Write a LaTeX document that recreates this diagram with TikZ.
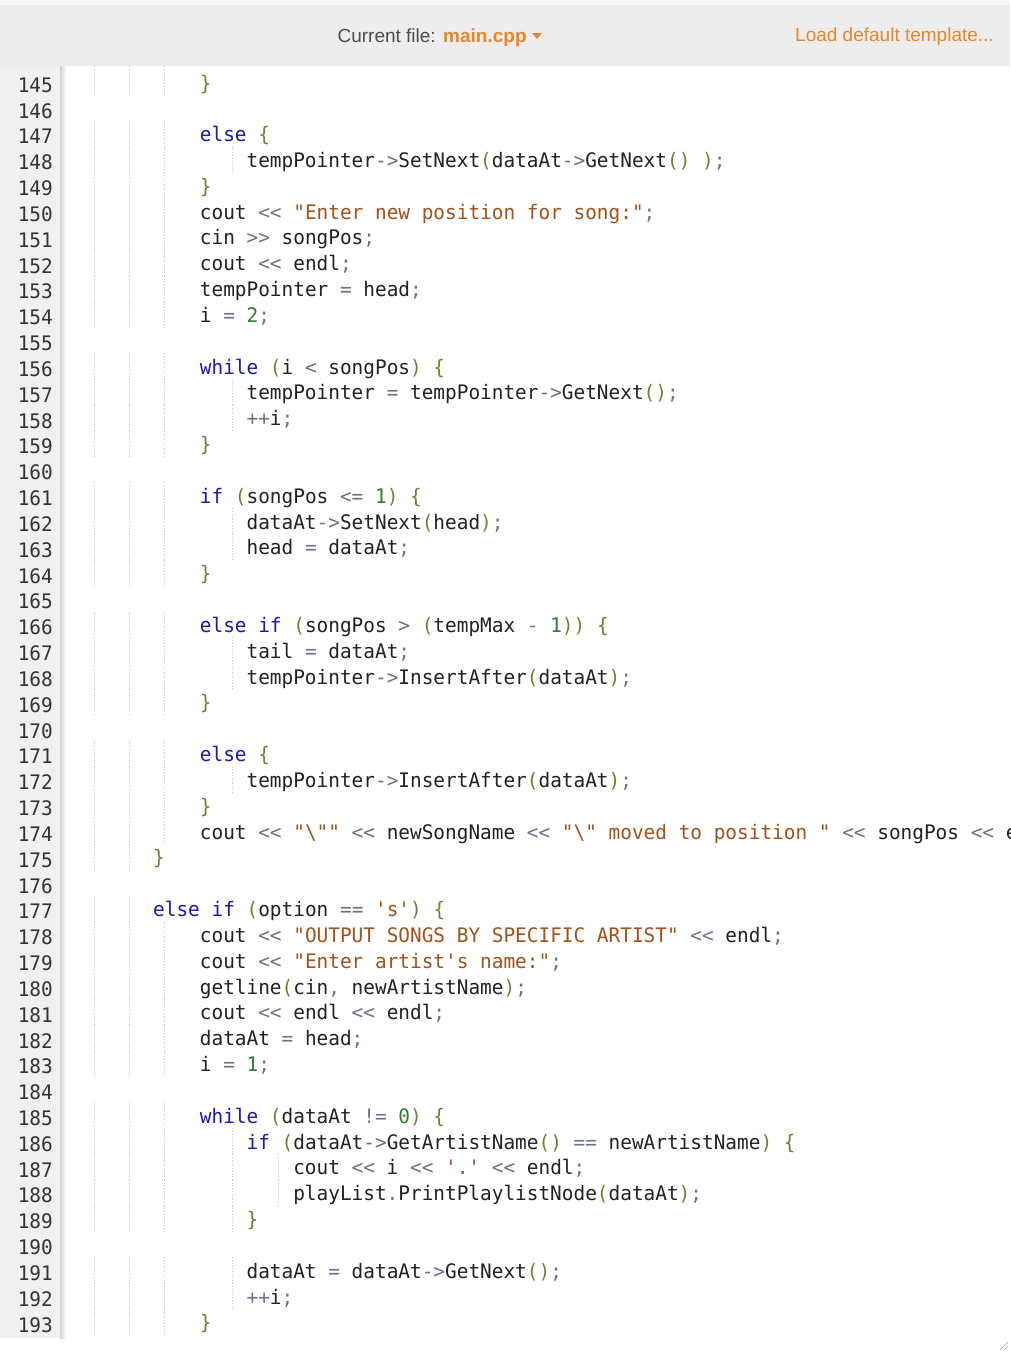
\documentclass[tikz,border=0pt]{standalone}
\usepackage{fontspec}
\setmainfont{Liberation Sans}
\setmonofont[FakeStretch=0.97]{DejaVu Sans Mono}
\definecolor{kw}{HTML}{1A1AA6}
\definecolor{st}{HTML}{A0521C}
\definecolor{nm}{HTML}{2E7D32}
\definecolor{op}{HTML}{6B7388}
\definecolor{br}{HTML}{7A7A35}
\definecolor{idf}{HTML}{222222}
\definecolor{orng}{HTML}{E8862A}
\newcommand\kw[1]{\textcolor{kw}{#1}}
\newcommand\stt[1]{\textcolor{st}{#1}}
\newcommand\nm[1]{\textcolor{nm}{#1}}
\newcommand\opp[1]{\textcolor{op}{#1}}
\newcommand\bra[1]{\textcolor{br}{#1}}
\newcommand\LB{\bra{\{}}
\newcommand\RB{\bra{\}}}
\newcommand\arw{\opp{->}}
\newcommand\semi{\opp{;}}
\newcommand\lsh{\opp{<{}<}}
\newcommand\codeline[3]{%
  \pgfmathsetmacro\yy{82+25.83*(#1-145)}%
  \pgfmathsetmacro\ty{\yy+3}%
  \node[numst] (n#1) at (53,\ty) {#1};
  \ifnum#2>0
    \draw[guide] (94,\yy-12.9) -- (94,\yy+12.9);
    \draw[guide] (129,\yy-12.9) -- (129,\yy+12.9);
    \ifnum#2>1 \draw[guide] (164,\yy-12.9) -- (164,\yy+12.9);\fi
    \ifnum#2>2 \draw[guide] (232,\yy-12.9) -- (232,\yy+12.9);\fi
    \ifnum#2>3 \draw[guide] (278,\yy-12.9) -- (278,\yy+12.9);\fi
    \pgfmathsetmacro\xx{153+46.7*(#2-1)}%
    \node[codest] (c#1) at (\xx,\ty) {#3};
  \fi}
\begin{document}
\begin{tikzpicture}[x=1pt,y=-1pt,
  numst/.style={anchor=east,inner sep=0pt,font=\ttfamily\fontsize{20}{20}\selectfont,text=black!80},
  codest/.style={anchor=west,inner sep=0pt,font=\ttfamily\fontsize{20}{20}\selectfont,text=idf,text height=14pt,text depth=4pt},
  guide/.style={draw=black!22,line width=0.8pt,dotted}]
\useasboundingbox (0,0) rectangle (1010,1352);
\clip (0,0) rectangle (1010,1352);
\fill[white] (0,0) rectangle (1010,1352);
\fill[black!6] (0,66) rectangle (60,1338);
\shade[left color=black!18,right color=white] (60,66) rectangle (66,1338);
\draw[guide] (94,52) -- (94,69); \draw[guide] (129,52) -- (129,69); \draw[guide] (164,52) -- (164,69);
\codeline{145}{2}{\RB}
\codeline{146}{0}{}
\codeline{147}{2}{\kw{else} \LB}
\codeline{148}{3}{tempPointer\arw SetNext\bra{(}dataAt\arw GetNext\bra{()} \bra{)}\semi}
\codeline{149}{2}{\RB}
\codeline{150}{2}{cout \lsh{} \stt{"Enter new position for song:"}\semi}
\codeline{151}{2}{cin \opp{>{}>} songPos\semi}
\codeline{152}{2}{cout \lsh{} endl\semi}
\codeline{153}{2}{tempPointer \opp{=} head\semi}
\codeline{154}{2}{i \opp{=} \nm{2}\semi}
\codeline{155}{0}{}
\codeline{156}{2}{\kw{while} \bra{(}i \opp{<} songPos\bra{)} \LB}
\codeline{157}{3}{tempPointer \opp{=} tempPointer\arw GetNext\bra{()}\semi}
\codeline{158}{3}{\opp{++}i\semi}
\codeline{159}{2}{\RB}
\codeline{160}{0}{}
\codeline{161}{2}{\kw{if} \bra{(}songPos \opp{<=} \nm{1}\bra{)} \LB}
\codeline{162}{3}{dataAt\arw SetNext\bra{(}head\bra{)}\semi}
\codeline{163}{3}{head \opp{=} dataAt\semi}
\codeline{164}{2}{\RB}
\codeline{165}{0}{}
\codeline{166}{2}{\kw{else if} \bra{(}songPos \opp{>} \bra{(}tempMax \opp{-} \nm{1}\bra{))} \LB}
\codeline{167}{3}{tail \opp{=} dataAt\semi}
\codeline{168}{3}{tempPointer\arw InsertAfter\bra{(}dataAt\bra{)}\semi}
\codeline{169}{2}{\RB}
\codeline{170}{0}{}
\codeline{171}{2}{\kw{else} \LB}
\codeline{172}{3}{tempPointer\arw InsertAfter\bra{(}dataAt\bra{)}\semi}
\codeline{173}{2}{\RB}
\codeline{174}{2}{cout \lsh{} \stt{"\textbackslash""} \lsh{} newSongName \lsh{} \stt{"\textbackslash" moved to position "} \lsh{} songPos \lsh{} e}
\codeline{175}{1}{\RB}
\codeline{176}{0}{}
\codeline{177}{1}{\kw{else if} \bra{(}option \opp{==} \stt{'s'}\bra{)} \LB}
\codeline{178}{2}{cout \lsh{} \stt{"OUTPUT SONGS BY SPECIFIC ARTIST"} \lsh{} endl\semi}
\codeline{179}{2}{cout \lsh{} \stt{"Enter artist's name:"}\semi}
\codeline{180}{2}{getline\bra{(}cin\opp{,} newArtistName\bra{)}\semi}
\codeline{181}{2}{cout \lsh{} endl \lsh{} endl\semi}
\codeline{182}{2}{dataAt \opp{=} head\semi}
\codeline{183}{2}{i \opp{=} \nm{1}\semi}
\codeline{184}{0}{}
\codeline{185}{2}{\kw{while} \bra{(}dataAt \opp{!=} \nm{0}\bra{)} \LB}
\codeline{186}{3}{\kw{if} \bra{(}dataAt\arw GetArtistName\bra{()} \opp{==} newArtistName\bra{)} \LB}
\codeline{187}{4}{cout \lsh{} i \lsh{} \stt{'.'} \lsh{} endl\semi}
\codeline{188}{4}{playList\opp{.}PrintPlaylistNode\bra{(}dataAt\bra{)}\semi}
\codeline{189}{3}{\RB}
\codeline{190}{0}{}
\codeline{191}{3}{dataAt \opp{=} dataAt\arw GetNext\bra{()}\semi}
\codeline{192}{3}{\opp{++}i\semi}
\codeline{193}{2}{\RB}
% header
\fill[black!7] (0,5) rectangle (1010,66);
\fill[black!3] (0,0) rectangle (1010,5);
\node[anchor=base east,inner sep=0pt,font=\fontsize{19}{19}\selectfont,text=black!70] (cf) at (436,42) {Current file:};
\node[anchor=base west,inner sep=0pt,font=\bfseries\fontsize{19}{19}\selectfont,text=orng] (mf) at (443,42) {main.cpp};
\fill[orng] (532,33) -- (542,33) -- (537,39) -- cycle;
\node[anchor=base east,inner sep=0pt,font=\fontsize{19}{19}\selectfont,text=orng] (ld) at (994,41) {Load default template...};
\draw[black!35] (1000,1350) -- (1008,1342) (1004,1350) -- (1008,1346);
\end{tikzpicture}
\end{document}
